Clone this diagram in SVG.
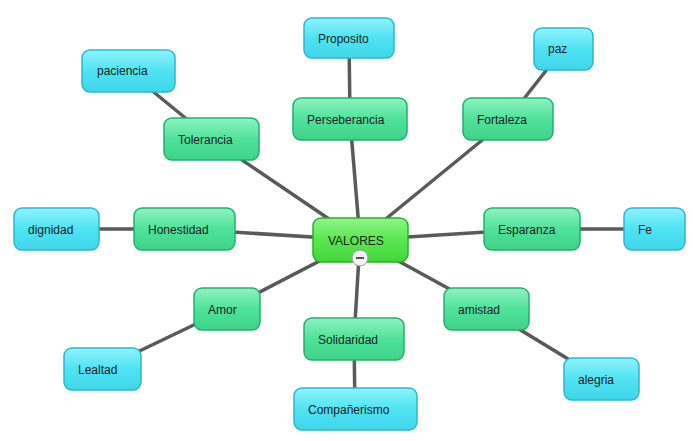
<svg xmlns="http://www.w3.org/2000/svg" width="693" height="441" viewBox="0 0 693 441">
<defs>
<linearGradient id="gc" x1="0" y1="0" x2="0" y2="1"><stop offset="0" stop-color="#8ff3fb"/><stop offset="0.5" stop-color="#4fe3f2"/><stop offset="1" stop-color="#3fd6ea"/></linearGradient>
<linearGradient id="gg" x1="0" y1="0" x2="0" y2="1"><stop offset="0" stop-color="#8ef2c0"/><stop offset="0.5" stop-color="#4fe29a"/><stop offset="1" stop-color="#3fd38a"/></linearGradient>
<linearGradient id="gm" x1="0" y1="0" x2="0" y2="1"><stop offset="0" stop-color="#8ff58a"/><stop offset="0.5" stop-color="#5ae650"/><stop offset="1" stop-color="#42d63a"/></linearGradient>
</defs>
<style>
.c{fill:url(#gc);stroke:#2bb8cc;stroke-width:1.5}
.g{fill:url(#gg);stroke:#22b070;stroke-width:1.5}
.m{fill:url(#gm);stroke:#2fb02a;stroke-width:1.5}
text{font-family:"Liberation Sans",Arial,sans-serif;font-size:12px;fill:#222}
#connectors line{stroke:#5a5a5a;stroke-width:3.5}
</style>
<rect width="693" height="441" fill="#fff"/>
<g id="connectors">
<line x1="360" y1="240" x2="211" y2="139"/>
<line x1="360" y1="240" x2="350" y2="119"/>
<line x1="360" y1="240" x2="508" y2="119"/>
<line x1="360" y1="240" x2="184" y2="229"/>
<line x1="360" y1="240" x2="532" y2="229"/>
<line x1="360" y1="240" x2="227" y2="309"/>
<line x1="360" y1="240" x2="486" y2="309"/>
<line x1="360" y1="240" x2="354" y2="339"/>
<line x1="211" y1="139" x2="128" y2="71"/>
<line x1="350" y1="119" x2="349" y2="38"/>
<line x1="508" y1="119" x2="563" y2="49"/>
<line x1="184" y1="229" x2="56" y2="229"/>
<line x1="532" y1="229" x2="654" y2="229"/>
<line x1="227" y1="309" x2="102" y2="369"/>
<line x1="486" y1="309" x2="601" y2="379"/>
<line x1="354" y1="339" x2="355" y2="409"/>
</g>
<g id="proposito"><rect class="c" x="304" y="18" width="90" height="40" rx="8"/><text x="318" y="43">Proposito</text></g>
<g id="paz"><rect class="c" x="534" y="28" width="59" height="42" rx="8"/><text x="548" y="53">paz</text></g>
<g id="paciencia"><rect class="c" x="82" y="50" width="93" height="42" rx="8"/><text x="97" y="75">paciencia</text></g>
<g id="tolerancia"><rect class="g" x="164" y="118" width="95" height="42" rx="8"/><text x="178" y="144">Tolerancia</text></g>
<g id="perseberancia"><rect class="g" x="293" y="98" width="114" height="42" rx="8"/><text x="307" y="124">Perseberancia</text></g>
<g id="fortaleza"><rect class="g" x="463" y="98" width="90" height="42" rx="8"/><text x="477" y="124">Fortaleza</text></g>
<g id="dignidad"><rect class="c" x="14" y="208" width="85" height="42" rx="8"/><text x="28" y="234">dignidad</text></g>
<g id="honestidad"><rect class="g" x="134" y="208" width="101" height="42" rx="8"/><text x="148" y="234">Honestidad</text></g>
<g id="valores"><rect class="m" x="313" y="218" width="95" height="44" rx="8"/><text x="328" y="245">VALORES</text><circle cx="360" cy="258" r="8" fill="#f2f2f2" stroke="#999" stroke-width="1"/><line x1="356" y1="258" x2="364" y2="258" stroke="#555" stroke-width="2"/></g>
<g id="esparanza"><rect class="g" x="484" y="208" width="96" height="42" rx="8"/><text x="498" y="234">Esparanza</text></g>
<g id="fe"><rect class="c" x="624" y="208" width="61" height="42" rx="8"/><text x="638" y="234">Fe</text></g>
<g id="amor"><rect class="g" x="194" y="288" width="66" height="42" rx="8"/><text x="208" y="314">Amor</text></g>
<g id="amistad"><rect class="g" x="444" y="288" width="85" height="42" rx="8"/><text x="458" y="314">amistad</text></g>
<g id="solidaridad"><rect class="g" x="304" y="318" width="100" height="42" rx="8"/><text x="318" y="344">Solidaridad</text></g>
<g id="lealtad"><rect class="c" x="64" y="348" width="77" height="42" rx="8"/><text x="78" y="374">Lealtad</text></g>
<g id="alegria"><rect class="c" x="564" y="358" width="75" height="42" rx="8"/><text x="578" y="384">alegria</text></g>
<g id="companerismo"><rect class="c" x="294" y="388" width="123" height="42" rx="8"/><text x="308" y="414">Compañerismo</text></g>
</svg>
